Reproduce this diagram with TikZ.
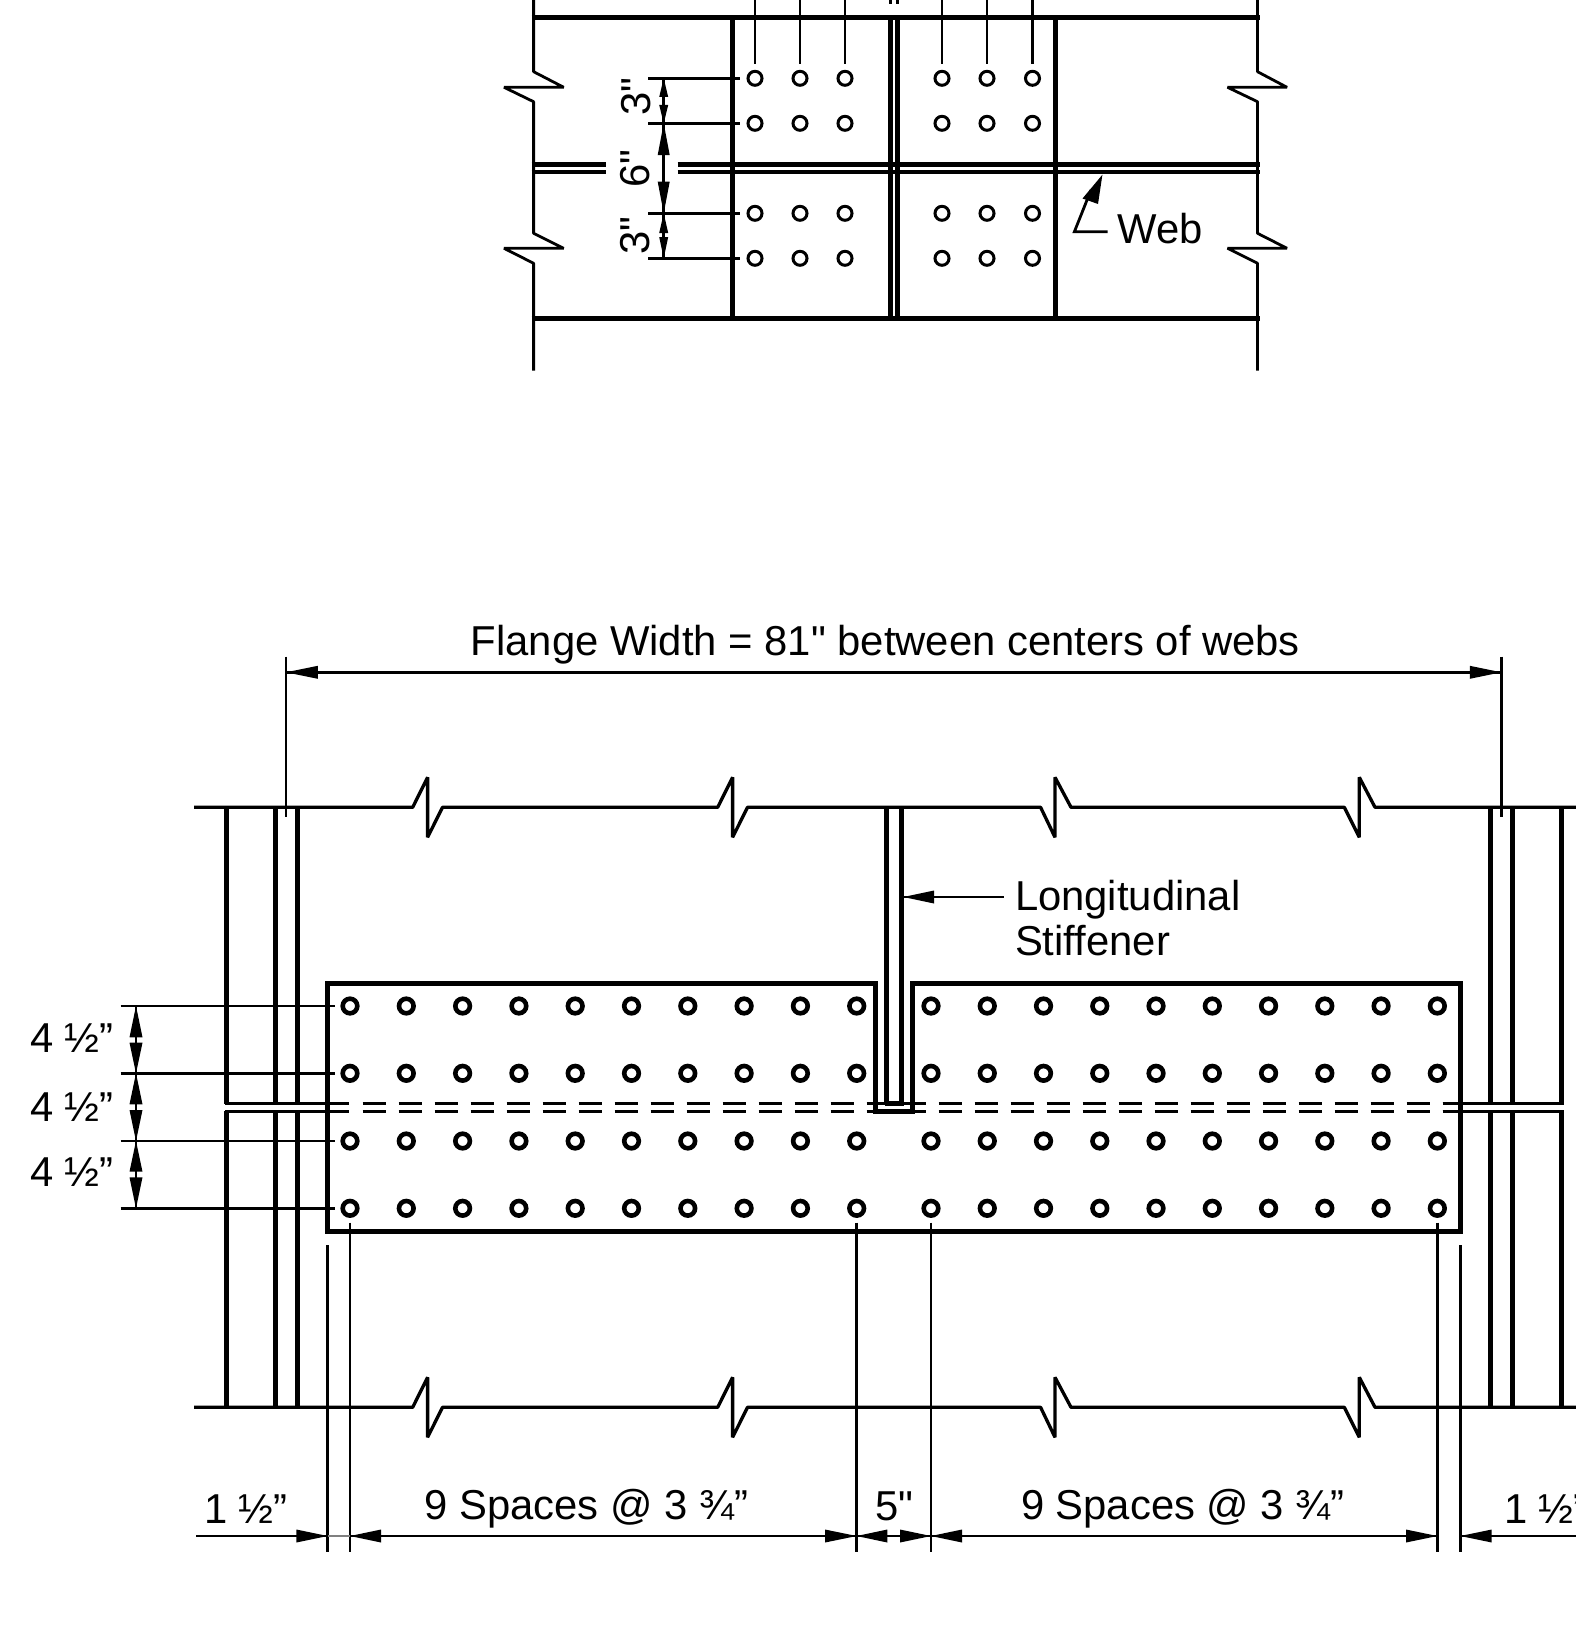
\documentclass[tikz,border=0pt]{standalone}
\usepackage{fontspec}
\newfontfamily\plainsans{Liberation Sans}
\newcommand{\HArr}[3]{\fill (#1,#2) -- (#3,#2-6.5) -- (#3,#2+6.5) -- cycle;}
\newcommand{\VArr}[4]{\fill (#1,#2) -- (#1-#4,#3) -- (#1+#4,#3) -- cycle;}
\tikzset{
  thin line/.style={line width=2.8pt,line cap=butt},
  thick line/.style={line width=5pt,line cap=butt},
  mid line/.style={line width=4.5pt,line cap=butt},
  lbl/.style={font=\plainsans\fontsize{41.8}{46}\selectfont,inner sep=0pt,outer sep=0pt,anchor=base west},
  rlbl/.style={font=\plainsans\fontsize{41.8}{46}\selectfont,inner sep=0pt,outer sep=0pt,anchor=base,rotate=90},
  hole/.style={line width=3pt,draw=black,fill=white},
  bolt/.style={line width=4.6pt,draw=black,fill=white}
}
\begin{document}
\begin{tikzpicture}[x=1pt,y=-1pt]
\clip (0,0) rectangle (1576,1651);
\fill[white] (0,0) rectangle (1576,1651);
% ---- top view ----
\draw[thin line,line join=bevel] (533.6,-2) -- (533.6,71.7) -- (563.7,87.3) -- (504,87.3) -- (533.6,101.7) -- (533.6,233.3) -- (563.7,248.3) -- (504,248.3) -- (533.6,263.3) -- (533.6,370.7);
\draw[thin line,line join=bevel] (1257.5,-2) -- (1257.5,71.7) -- (1287,87.3) -- (1227.5,87.3) -- (1257.5,101.7) -- (1257.5,233.3) -- (1287,248.3) -- (1227.5,248.3) -- (1257.5,263.3) -- (1257.5,370.7);
\draw[thick line] (531.6,18) -- (1259.5,18);
\draw[thick line] (531.6,318.3) -- (1259.5,318.3);
\foreach \xx in {732.6,897.3,1055.5} \draw[thick line] (\xx,18) -- (\xx,318.3);
\draw[mid line] (890.7,18) -- (890.7,318.3);
\foreach \yy in {164.3,172} {
  \draw[mid line] (531.6,\yy) -- (606,\yy);
  \draw[mid line] (677.5,\yy) -- (1259.5,\yy);
}
\foreach \xx in {755,800,845,942,987,1032.5} {
  \draw[thin line] (\xx,-2) -- (\xx,64);
  \foreach \yy in {78.3,123.3,213.3,258.3} \draw[hole] (\xx,\yy) circle (7);
}
\draw[thin line] (890.7,-1) -- (890.7,4);
\draw[thin line] (897.3,-1) -- (897.3,4);
\foreach \yy in {78.3,123.3,213.3,258.3} \draw[thin line] (648,\yy) -- (740,\yy);
\draw[thin line] (663.7,78.3) -- (663.7,258.3);
\VArr{663.7}{78.3}{97}{4.5}
\VArr{663.7}{123.3}{105}{4.5}
\VArr{663.7}{123.3}{155}{6}
\VArr{663.7}{213.3}{181.7}{6}
\VArr{663.7}{213.3}{233}{4.5}
\VArr{663.7}{258.3}{237}{4.5}
\node[rlbl] (t3a) at (650.5,96.7) {3"};
\node[rlbl] (t6) at (649.5,168.7) {6"};
\node[rlbl] (t3b) at (649.5,235.8) {3"};
\draw[thin line,line join=miter] (1107.5,231.7) -- (1074.4,231.7) -- (1091,190);
\fill (1102.4,174.7) -- (1082.5,198.5) -- (1098,204) -- cycle;
\node[lbl] (web) at (1117.5,243.5) {Web};
% ---- plan view ----
\draw[thin line] (286,656.7) -- (286,816.7);
\draw[thin line] (1501.3,656.7) -- (1501.3,816.7);
\draw[thin line] (286,672.3) -- (1501.3,672.3);
\HArr{286}{672.3}{317.8}
\HArr{1501.3}{672.3}{1469.8}
\node[lbl,anchor=base] (flange) at (885.4,655) {Flange Width = 81" between centers of webs};
\foreach \yy in {807.3,1407.3} {
  \draw[line width=3.3pt,line join=bevel] (194,\yy) -- (412.7,\yy)
    -- (427.6,\yy-30) -- (427.6,\yy+30) -- (442.5,\yy) -- (717.7,\yy)
    -- (732.6,\yy-30) -- (732.6,\yy+30) -- (747.5,\yy) -- (1040.6,\yy)
    -- (1055,\yy+30) -- (1055,\yy-30) -- (1071,\yy) -- (1344.3,\yy)
    -- (1359.3,\yy+30) -- (1359.3,\yy-30) -- (1375,\yy) -- (1578,\yy);
}
\foreach \xx in {226.7,275.3,297.3,1490.3,1512.3,1561.3} {
  \draw[mid line] (\xx,806) -- (\xx,1103.7);
  \draw[mid line] (\xx,1111.3) -- (\xx,1408.5);
}
\foreach \yy in {1103.7,1111.3} {
  \draw[thin line] (225,\yy) -- (349.3,\yy);
  \draw[thin line,line width=3.4pt] (1442.7,\yy) -- (1563.5,\yy);
  \draw[thin line,dash pattern=on 23.3pt off 12.7pt] (362.7,\yy) -- (1442.7,\yy);
}
\draw[mid line] (886.7,807.3) -- (886.7,1105);
\draw[mid line] (901.7,807.3) -- (901.7,1105);
\draw[mid line] (885,1103.5) -- (903.5,1103.5);
\draw[thick line,line join=miter] (327.7,983.3) -- (875.7,983.3) -- (875.7,1111.3) -- (912.3,1111.3) -- (912.3,983.3) -- (1460.3,983.3) -- (1460.3,1231.3) -- (327.7,1231.3) -- cycle;
\foreach \yy in {1006,1073.3,1141,1208.3} {
  \draw[thin line] (120.7,\yy) -- (335,\yy);
  \foreach \k in {0,...,9} {
    \draw[bolt] ({350+56.3*\k},\yy) circle (7.3);
    \draw[bolt] ({931+56.26*\k},\yy) circle (7.3);
  }
}
\draw[thin line] (136,1006) -- (136,1208.3);
\VArr{136}{1006}{1037.3}{6.5}
\VArr{136}{1073.3}{1042.7}{6.5}
\VArr{136}{1073.3}{1104.3}{6.5}
\VArr{136}{1141}{1110}{6.5}
\VArr{136}{1141}{1171.7}{6.5}
\VArr{136}{1208.3}{1177.3}{6.5}
\node[lbl] (da) at (30,1052.7) {4 ½”};
\node[lbl] (db) at (30,1121.7) {4 ½”};
\node[lbl] (dc) at (30,1186) {4 ½”};
\draw[thin line] (903.3,897) -- (1004,897);
\HArr{903.3}{897}{934}
\node[lbl] (lng) at (1015,910) {Longitudinal};
\node[lbl] (stf) at (1015,955) {Stiffener};
% bottom dimensions
\draw[thin line] (327.6,1245) -- (327.6,1551.7);
\draw[thin line] (1460.3,1245) -- (1460.3,1551.7);
\foreach \xx in {350,856.6,931,1437.3} \draw[thin line] (\xx,1222.7) -- (\xx,1551.7);
\draw[thin line] (196,1536) -- (327.6,1536);
\draw[line width=1.6pt,gray] (327.6,1536) -- (350,1536);
\draw[thin line] (350,1536) -- (856.6,1536);
\draw[thin line] (856.6,1536) -- (1437.3,1536);
\draw[thin line] (1460.3,1536) -- (1578,1536);
\HArr{327.6}{1536}{296.4}
\HArr{350}{1536}{381}
\HArr{856.6}{1536}{825}
\HArr{856.6}{1536}{887.3}
\HArr{931}{1536}{900}
\HArr{931}{1536}{962}
\HArr{1437.3}{1536}{1406}
\HArr{1460.3}{1536}{1491.7}
\node[lbl] (ea) at (204,1523) {1 ½”};
\node[lbl] (eb) at (424.5,1519.3) {9 Spaces @ 3 ¾”};
\node[lbl] (ec) at (875,1520) {5"};
\node[lbl] (ed) at (1021,1519.3) {9 Spaces @ 3 ¾”};
\node[lbl] (ee) at (1504,1523) {1 ½”};
\end{tikzpicture}
\end{document}
